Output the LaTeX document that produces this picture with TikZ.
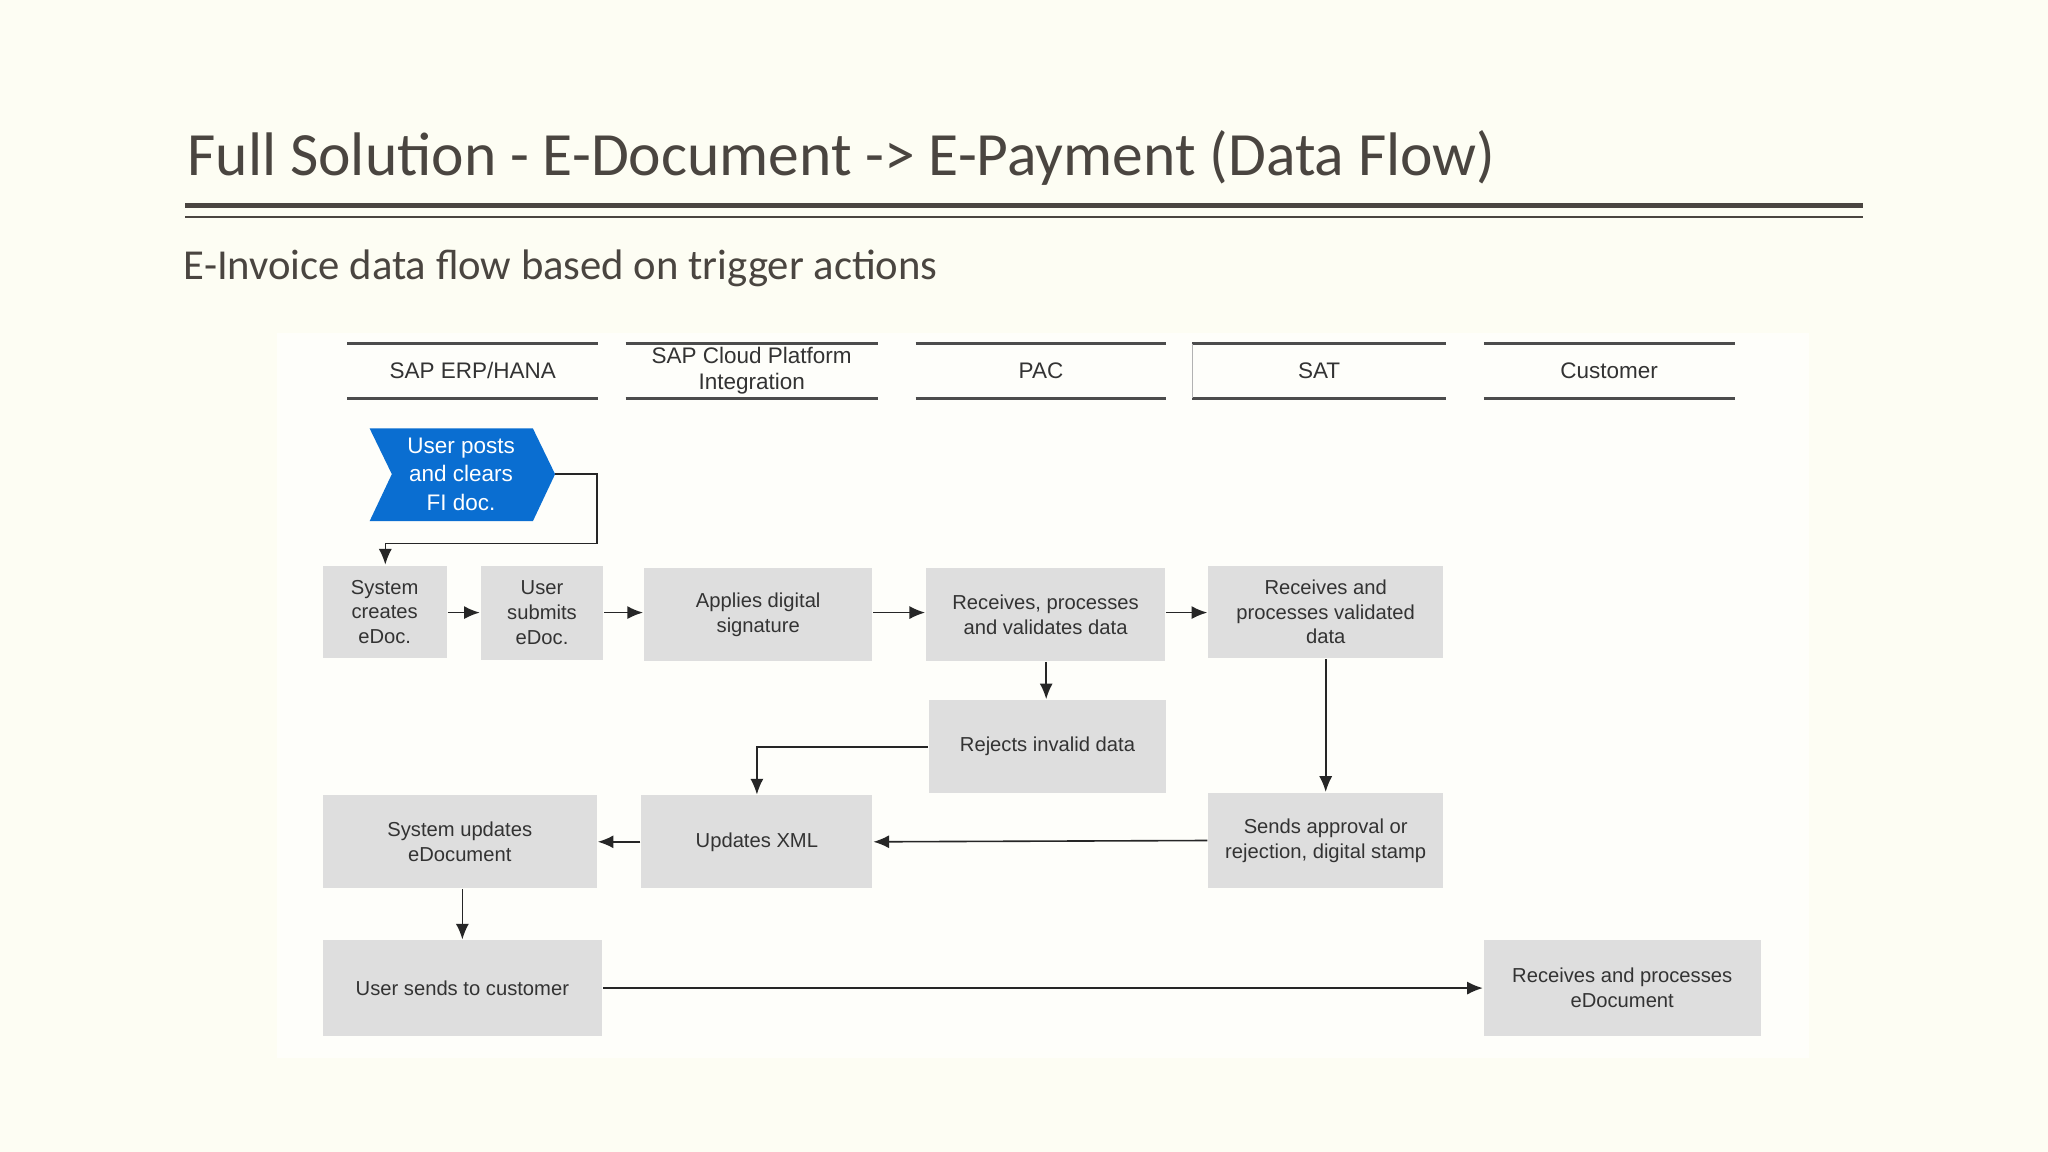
\documentclass[tikz,border=0pt]{standalone}
\usepackage{fontspec}
\setmainfont{Liberation Sans}
\newfontfamily\titlefont{Carlito}
\usetikzlibrary{arrows.meta}
\definecolor{slidebg}{HTML}{FDFDF3}
\definecolor{titlegray}{HTML}{4A4540}
\definecolor{boxgray}{HTML}{DEDEDE}
\definecolor{sapblue}{HTML}{0A6ED1}
\tikzset{procbox/.style={fill=boxgray,draw=none,align=center,inner sep=0pt,
           font=\fontsize{4.4}{5.4}\selectfont,text=black!80},
         lane/.style={font=\fontsize{4.9}{5.6}\selectfont,align=center,text=black!80},
         flow/.style={-{Latex[length=1.2mm,width=1mm]},line width=0.35pt,black!85}}
\begin{document}
\begin{tikzpicture}[x=0.1mm,y=-0.1mm]
\fill[slidebg] (0,0) rectangle (1568,882);
\useasboundingbox (0,0) rectangle (1568,882);
\fill[white!60!slidebg] (212,255) rectangle (1385,810);
% title
\node[anchor=base west,inner sep=0pt,text=titlegray,font=\titlefont\fontsize{13.4}{15}\selectfont] (title) at (143,134) {Full Solution - E-Document -> E-Payment (Data Flow)};
\draw[titlegray,line width=1.1pt] (142,157) -- (1426,157);
\draw[titlegray,line width=0.4pt] (142,166) -- (1426,166);
\node[anchor=base west,inner sep=0pt,text=titlegray,font=\titlefont\fontsize{9.3}{11}\selectfont] (subtitle) at (140,214) {E-Invoice data flow based on trigger actions};
% lanes
\foreach \xa/\xb/\txt in {266/458/{SAP ERP/HANA},479/672/{SAP Cloud Platform\\Integration},701/893/PAC,913/1107/SAT,1136/1328/Customer}{
  \draw[black!70,line width=0.5pt] (\xa,263) -- (\xb,263) (\xa,305) -- (\xb,305);
  \node[lane] at ({(\xa+\xb)/2},284) {\txt};
}
\draw[black!30,line width=0.3pt] (913,263) -- (913,305);
% steps
\fill[sapblue] (283,328) -- (408,328) -- (425,363) -- (408,399) -- (283,399) -- (300,363) -- cycle;
\coordinate (posttip) at (425,363);
\node[lane,text=white,font=\fontsize{4.9}{6.2}\selectfont] (post) at (353,363) {User posts\\and clears\\FI doc.};
\node[procbox,minimum width=9.5mm,minimum height=7.1mm] (create) at (294.5,468.5) {System\\creates\\eDoc.};
\node[procbox,minimum width=9.4mm,minimum height=7.2mm] (submit) at (415,469) {User\\submits\\eDoc.};
\node[procbox,minimum width=17.5mm,minimum height=7.1mm] (sign) at (580.5,470.5) {Applies digital\\signature};
\node[procbox,minimum width=18.3mm,minimum height=7.1mm] (pacrecv) at (800.5,470.5) {Receives, processes\\and validates data};
\node[procbox,minimum width=18mm,minimum height=7.1mm] (satrecv) at (1015,468.5) {Receives and\\processes validated\\data};
\node[procbox,minimum width=18.2mm,minimum height=7.1mm] (reject) at (802,571.5) {Rejects invalid data};
\node[procbox,minimum width=21mm,minimum height=7.1mm] (update) at (352,644.5) {System updates\\eDocument};
\node[procbox,minimum width=17.7mm,minimum height=7.1mm] (xml) at (579.5,644.5) {Updates XML};
\node[procbox,minimum width=18mm,minimum height=7.3mm] (stamp) at (1015,643.5) {Sends approval or\\rejection, digital stamp};
\node[procbox,minimum width=21.4mm,minimum height=7.3mm] (send) at (354,756.5) {User sends to customer};
\node[procbox,minimum width=21.2mm,minimum height=7.3mm] (custrecv) at (1242,756.5) {Receives and processes\\eDocument};
% connectors
\draw[flow] (posttip) -- (457,363) |- (295,416) -- (create.north -| 295,0);
\draw[flow] (create.east |- 0,469) -- (submit.west |- 0,469);
\draw[flow] (submit.east |- 0,469) -- (sign.west |- 0,469);
\draw[flow] (sign.east |- 0,469) -- (pacrecv.west |- 0,469);
\draw[flow] (pacrecv.east |- 0,469) -- (satrecv.west |- 0,469);
\draw[flow] (pacrecv.south -| 801,0) -- (reject.north -| 801,0);
\draw[flow] (reject.west |- 0,572) -| (xml.north);
\draw[flow] (satrecv.south) -- (stamp.north);
\draw[flow] (stamp.west) -- (xml.east);
\draw[flow] (xml.west) -- (update.east);
\draw[flow] (update.south -| 354,0) -- (send.north);
\draw[flow] (send.east) -- (custrecv.west);
\end{tikzpicture}
\end{document}
